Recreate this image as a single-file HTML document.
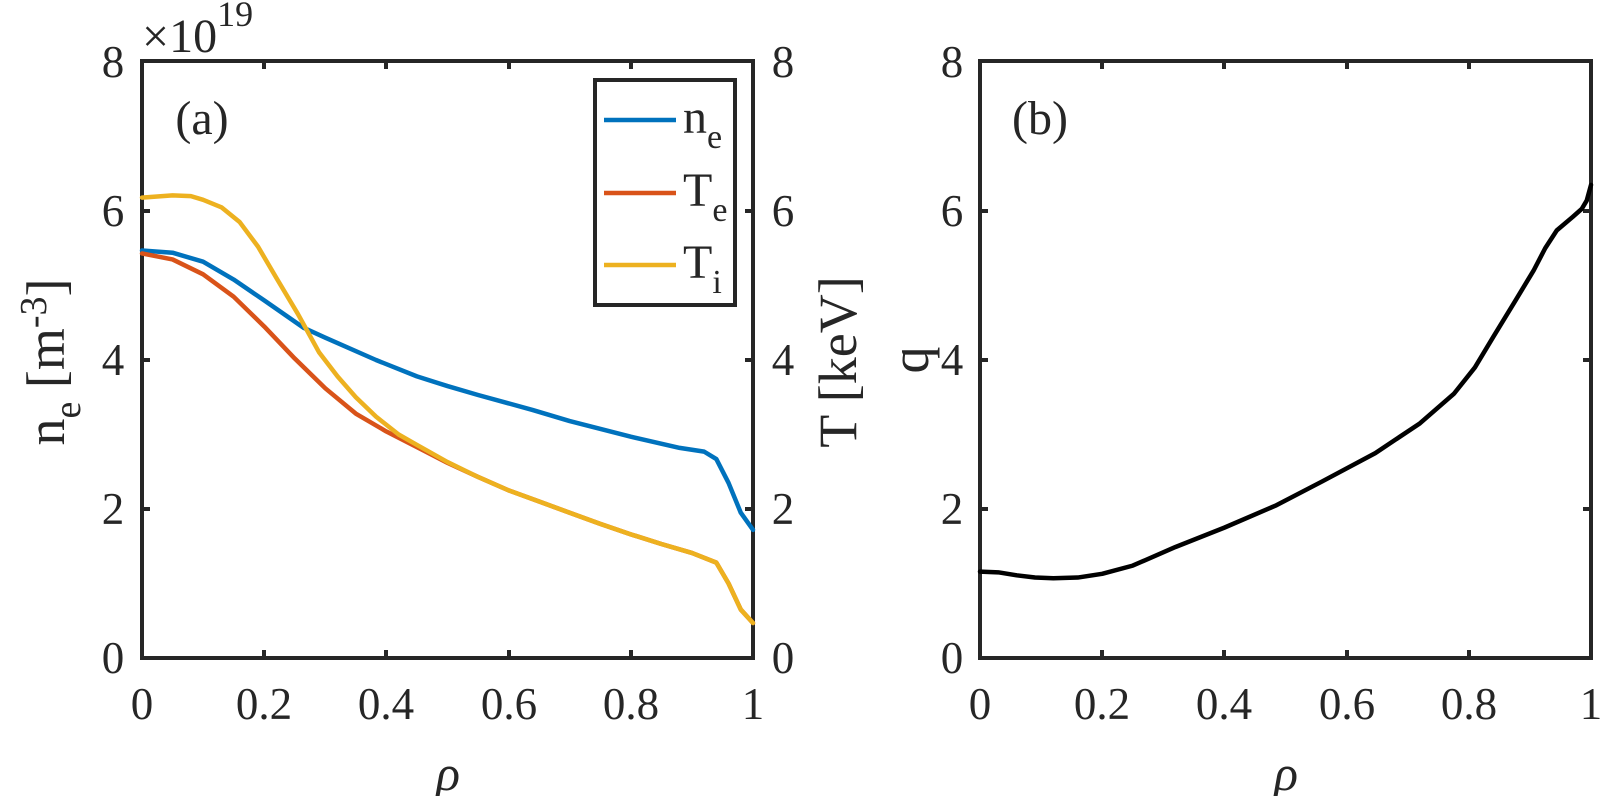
<!DOCTYPE html>
<html><head><meta charset="utf-8"><style>
html,body{margin:0;padding:0;background:#fff;}
svg{display:block;}
text{font-family:"Liberation Serif","Times New Roman",serif;fill:#262626;}
.c{fill:none;stroke-width:4.5;stroke-linejoin:round;stroke-linecap:round;}
</style></head><body>
<svg width="1600" height="796" viewBox="0 0 1600 796" xmlns="http://www.w3.org/2000/svg">
<g font-size="45" text-anchor="middle">
<!-- Panel a -->
<g stroke="#262626" stroke-width="4" fill="none">
<rect x="142" y="61" width="611" height="597"/>
<path d="M264 658v-8M386 658v-8M509 658v-8M631 658v-8M264 61v8M386 61v8M509 61v8M631 61v8M142 509h8M142 360h8M142 211h8M753 509h-8M753 360h-8M753 211h-8"/>
</g>
<text x="113" y="77">8</text><text x="113" y="226">6</text><text x="113" y="375">4</text><text x="113" y="524">2</text><text x="113" y="673">0</text>
<text x="783" y="77">8</text><text x="783" y="226">6</text><text x="783" y="375">4</text><text x="783" y="524">2</text><text x="783" y="673">0</text>
<text x="142" y="719">0</text><text x="264" y="719">0.2</text><text x="386" y="719">0.4</text><text x="509" y="719">0.6</text><text x="631" y="719">0.8</text><text x="753" y="719">1</text>
<text x="448" y="790" font-style="italic" font-size="50">ρ</text>
<text x="202" y="134" font-size="48">(a)</text>
<text x="142" y="52" text-anchor="start" font-size="48">×10<tspan font-size="36" dy="-26">19</tspan></text>
<text transform="translate(64,362) rotate(-90)" font-size="54">n<tspan font-size="38" dy="16">e</tspan><tspan dy="-16"> [m</tspan><tspan font-size="38" dy="-18">-3</tspan><tspan dy="18">]</tspan></text>
<text transform="translate(856,362) rotate(-90)" font-size="54">T [keV]</text>

<g transform="translate(142,658) scale(611,-74.5)">
<polyline class="c" vector-effect="non-scaling-stroke" stroke="#0072BD" points="0,5.47 0.05,5.44 0.1,5.32 0.15,5.08 0.2,4.8 0.265,4.43 0.3,4.3 0.383,4.0 0.45,3.78 0.5,3.65 0.55,3.53 0.639,3.33 0.7,3.18 0.8,2.97 0.88,2.82 0.92,2.77 0.94,2.67 0.96,2.35 0.98,1.95 1,1.72"/>
<polyline class="c" vector-effect="non-scaling-stroke" stroke="#D95319" points="0,5.43 0.05,5.35 0.1,5.15 0.15,4.85 0.2,4.45 0.25,4.02 0.3,3.62 0.35,3.28 0.4,3.04 0.45,2.83 0.5,2.62 0.55,2.43 0.6,2.25 0.65,2.1 0.7,1.95 0.75,1.8 0.8,1.66 0.85,1.53 0.9,1.41 0.94,1.28 0.96,1.0 0.98,0.65 1,0.47"/>
<polyline class="c" vector-effect="non-scaling-stroke" stroke="#EDB120" points="0,6.18 0.05,6.21 0.08,6.2 0.1,6.15 0.13,6.05 0.16,5.85 0.19,5.52 0.22,5.1 0.255,4.62 0.29,4.1 0.32,3.78 0.35,3.5 0.383,3.24 0.42,3.0 0.45,2.86 0.5,2.63 0.55,2.43 0.6,2.25 0.65,2.1 0.7,1.95 0.75,1.8 0.8,1.66 0.85,1.53 0.9,1.41 0.94,1.28 0.96,1.0 0.98,0.65 1,0.47"/>
</g>
<rect x="595" y="80" width="140" height="225" fill="#fff" stroke="#262626" stroke-width="4"/>
<g stroke-width="4.5"><path stroke="#0072BD" d="M604 120h72"/><path stroke="#D95319" d="M604 193h72"/><path stroke="#EDB120" d="M604 265h72"/></g>
<g text-anchor="start" font-size="48">
<text x="683" y="133">n<tspan font-size="34" dy="15">e</tspan></text>
<text x="683" y="206">T<tspan font-size="34" dy="15">e</tspan></text>
<text x="683" y="278">T<tspan font-size="34" dy="15">i</tspan></text>
</g>

<!-- Panel b -->
<g stroke="#262626" stroke-width="4" fill="none">
<rect x="980" y="61" width="611" height="597"/>
<path d="M1102 658v-8M1224 658v-8M1347 658v-8M1469 658v-8M1102 61v8M1224 61v8M1347 61v8M1469 61v8M980 509h8M980 360h8M980 211h8M1591 509h-8M1591 360h-8M1591 211h-8"/>
</g>
<text x="952" y="77">8</text><text x="952" y="226">6</text><text x="952" y="375">4</text><text x="952" y="524">2</text><text x="952" y="673">0</text>
<text x="980" y="719">0</text><text x="1102" y="719">0.2</text><text x="1224" y="719">0.4</text><text x="1347" y="719">0.6</text><text x="1469" y="719">0.8</text><text x="1591" y="719">1</text>
<text x="1286" y="790" font-style="italic" font-size="50">ρ</text>
<text x="1040" y="134" font-size="48">(b)</text>
<text transform="translate(928,360) rotate(-90)" font-size="54">q</text>
<g transform="translate(980,658) scale(611,-74.5)">
<polyline class="c" vector-effect="non-scaling-stroke" stroke="#000" points="0,1.16 0.03,1.15 0.06,1.11 0.09,1.08 0.12,1.07 0.16,1.08 0.2,1.13 0.25,1.24 0.32,1.49 0.4,1.75 0.485,2.05 0.56,2.37 0.647,2.75 0.72,3.15 0.776,3.55 0.81,3.9 0.84,4.31 0.875,4.78 0.906,5.2 0.925,5.5 0.944,5.74 0.97,5.92 0.985,6.03 0.993,6.14 1,6.35"/>
</g>
</g>
</svg>
</body></html>
